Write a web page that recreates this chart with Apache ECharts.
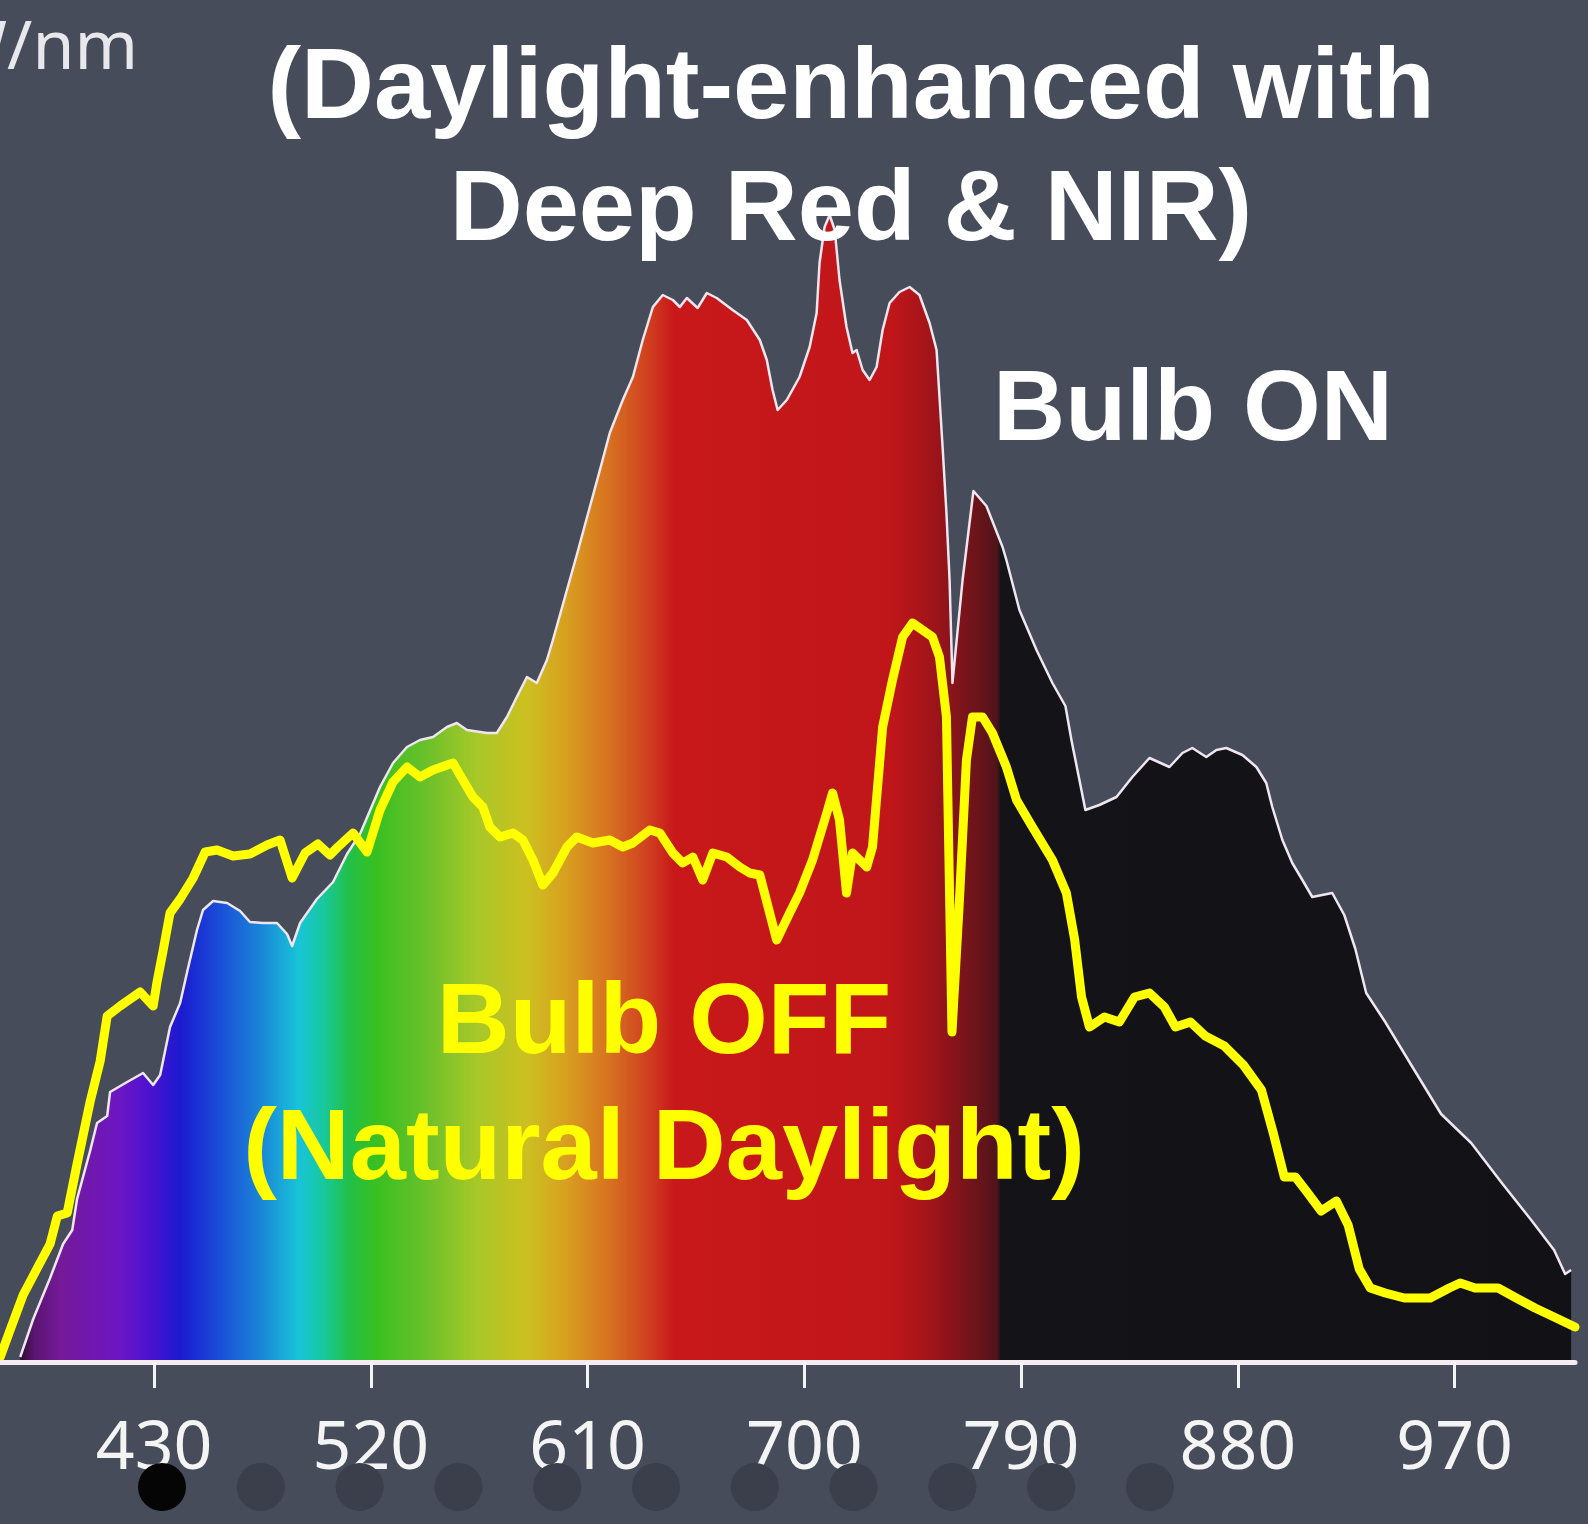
<!DOCTYPE html>
<html>
<head>
<meta charset="utf-8">
<title>Bulb spectrum</title>
<script src="https://cdn.jsdelivr.net/npm/echarts@6.0.0/dist/echarts.min.js"></script>
<style>
  html, body { margin: 0; padding: 0; background: #474c5a; }
  #chart { width: 1588px; height: 1524px; }
</style>
</head>
<body>
<div id="chart"></div>
<script>
// x ticks shown on the axis (nm)
const tickLabels = [430, 520, 610, 700, 790, 880, 970];

// Bulb ON (white outline, filled with the spectrum colours)
const onWavelength = [
  374.4, 379.8, 386.8, 392.2, 396.0, 398.0, 403.4, 406.3, 410.5, 411.7,
  418.8, 425.4, 429.6, 432.5, 436.6, 440.8, 443.7, 447.8, 450.3, 454.5,
  460.3, 465.7, 469.8, 475.2, 481.0, 485.2, 487.3, 490.6, 497.6, 504.3,
  510.1, 515.5, 523.8, 529.2, 535.0, 540.4, 545.8, 551.6, 555.7, 559.9,
  568.2, 572.3, 576.5, 580.6, 584.8, 588.9, 593.1, 595.6, 605.5, 615.1,
  619.2, 624.6, 628.8, 632.9, 637.1, 641.2, 645.4, 648.3, 651.2, 655.7,
  659.5, 663.6, 670.2, 676.1, 681.5, 684.4, 686.8, 688.9, 692.7, 698.0,
  702.2, 705.1, 706.3, 708.4, 710.5, 712.6, 714.6, 717.5, 720.0, 721.7,
  724.2, 727.1, 730.0, 732.5, 735.4, 739.5, 743.7, 747.8, 752.0, 754.9,
  757.4, 759.0, 760.3, 761.5, 765.7, 770.2, 775.6, 782.3, 783.9, 789.3,
  796.4, 803.0, 808.4, 810.9, 813.8, 816.7, 822.5, 829.6, 836.2, 843.3,
  851.6, 857.0, 861.1, 866.9, 871.1, 875.2, 881.9, 887.7, 891.8, 894.3,
  898.5, 902.6, 906.8, 910.9, 919.2, 924.2, 928.8, 933.3, 941.2, 952.0,
  964.4, 976.9, 989.3, 1001.8, 1011.3, 1015.9, 1018.4
];
const onIrradiance = [
  0.005, 0.043, 0.084, 0.118, 0.132, 0.163, 0.211, 0.239, 0.246, 0.270,
  0.280, 0.289, 0.277, 0.287, 0.335, 0.359, 0.390, 0.432, 0.452, 0.461,
  0.459, 0.451, 0.440, 0.439, 0.439, 0.428, 0.416, 0.439, 0.463, 0.480,
  0.508, 0.528, 0.575, 0.599, 0.615, 0.622, 0.625, 0.635, 0.639, 0.632,
  0.629, 0.629, 0.645, 0.665, 0.685, 0.679, 0.702, 0.722, 0.807, 0.892,
  0.929, 0.962, 0.985, 1.022, 1.055, 1.067, 1.062, 1.055, 1.064, 1.054,
  1.069, 1.064, 1.052, 1.042, 1.022, 1.002, 0.972, 0.952, 0.962, 0.985,
  1.015, 1.049, 1.099, 1.135, 1.147, 1.132, 1.082, 1.035, 1.009, 1.012,
  0.992, 0.982, 0.995, 1.032, 1.059, 1.070, 1.075, 1.067, 1.039, 1.012,
  0.915, 0.849, 0.782, 0.679, 0.782, 0.871, 0.856, 0.815, 0.802, 0.752,
  0.712, 0.679, 0.656, 0.622, 0.587, 0.552, 0.557, 0.565, 0.585, 0.604,
  0.595, 0.609, 0.614, 0.605, 0.612, 0.614, 0.607, 0.595, 0.579, 0.555,
  0.522, 0.499, 0.482, 0.465, 0.469, 0.447, 0.413, 0.369, 0.340, 0.297,
  0.248, 0.219, 0.180, 0.142, 0.112, 0.088, 0.092
];

// Bulb OFF (natural daylight, yellow line)
const offWavelength = [
  366.1, 370.2, 375.6, 381.5, 386.8, 389.8, 393.9, 398.0, 403.4, 407.6,
  410.5, 415.9, 424.2, 429.6, 431.2, 433.7, 436.6, 440.8, 446.2, 451.2,
  456.1, 462.8, 469.8, 476.9, 482.3, 487.3, 492.7, 498.0, 503.0, 506.3,
  512.6, 518.4, 523.8, 529.2, 535.0, 540.4, 545.8, 554.1, 558.2, 562.4,
  566.5, 569.4, 573.6, 579.0, 583.1, 587.3, 591.4, 595.6, 601.4, 605.5,
  612.2, 619.2, 624.6, 628.8, 635.8, 640.0, 645.4, 649.5, 653.7, 657.8,
  662.0, 667.8, 673.2, 677.3, 681.5, 688.5, 693.9, 698.0, 703.4, 709.3,
  711.7, 714.6, 717.5, 720.0, 725.9, 728.3, 732.5, 736.6, 740.8, 744.9,
  753.2, 756.1, 759.0, 761.3, 764.4, 767.3, 769.8, 774.0, 778.1, 783.9,
  788.1, 794.7, 803.0, 808.8, 812.2, 815.1, 818.4, 824.6, 830.8, 837.1,
  843.3, 849.5, 854.1, 860.3, 866.5, 874.4, 882.3, 889.8, 894.7, 899.3,
  903.9, 908.4, 914.6, 920.9, 925.8, 930.4, 935.0, 941.2, 949.1, 959.9,
  967.8, 972.3, 978.5, 988.1, 995.6, 1003.4, 1011.3, 1020.0
];
const offIrradiance = [
  0.005, 0.032, 0.067, 0.094, 0.118, 0.146, 0.149, 0.198, 0.260, 0.301,
  0.346, 0.356, 0.370, 0.356, 0.380, 0.411, 0.449, 0.463, 0.484, 0.510,
  0.512, 0.506, 0.508, 0.517, 0.522, 0.484, 0.509, 0.518, 0.507, 0.515,
  0.529, 0.510, 0.552, 0.580, 0.595, 0.585, 0.592, 0.599, 0.582, 0.565,
  0.555, 0.535, 0.525, 0.529, 0.522, 0.502, 0.477, 0.489, 0.515, 0.525,
  0.519, 0.522, 0.515, 0.519, 0.532, 0.529, 0.509, 0.499, 0.505, 0.482,
  0.509, 0.505, 0.495, 0.489, 0.487, 0.422, 0.449, 0.469, 0.502, 0.549,
  0.569, 0.542, 0.469, 0.509, 0.495, 0.515, 0.635, 0.682, 0.725, 0.739,
  0.725, 0.705, 0.645, 0.330, 0.462, 0.602, 0.645, 0.645, 0.629, 0.595,
  0.562, 0.535, 0.502, 0.469, 0.423, 0.365, 0.335, 0.345, 0.340, 0.365,
  0.369, 0.355, 0.335, 0.340, 0.326, 0.316, 0.297, 0.272, 0.229, 0.185,
  0.185, 0.171, 0.151, 0.161, 0.137, 0.093, 0.074, 0.069, 0.064, 0.064,
  0.074, 0.079, 0.074, 0.074, 0.064, 0.054, 0.045, 0.035
];

// colour of the fill by wavelength
const spectrumStops = [
  [374, '#2a0c30'], [380, '#5a1470'], [391, '#741a98'], [416, '#6c16c4'],
  [429, '#4812d0'], [441, '#1a1ad0'], [458, '#1a50d8'], [475, '#1a88d8'],
  [490, '#18c4d8'], [500, '#18c8a0'], [511, '#22c048'], [522, '#38c020'],
  [542, '#68c02a'], [564, '#a8c828'], [585, '#ccc020'], [601, '#d8a020'],
  [618, '#d87420'], [635, '#d04020'], [646, '#c8181a'], [736, '#c0161a'],
  [753, '#a0141a'], [769, '#72141a'], [780, '#50141a'], [781.5, '#141418'],
  [1020, '#121216']
];

const chart = echarts.init(document.getElementById('chart'));

const onData = onWavelength.map((w, i) => [w, onIrradiance[i]]);
const offData = offWavelength.map((w, i) => [w, offIrradiance[i]]);

// gradient offsets relative to the filled area's own x range
const wMin = onWavelength[0];
const wMax = onWavelength[onWavelength.length - 1];
const fillGradient = new echarts.graphic.LinearGradient(0, 0, 1, 0,
  spectrumStops.map(s => ({
    offset: Math.min(1, Math.max(0, (s[0] - wMin) / (wMax - wMin))),
    color: s[1]
  }))
);

// pager dots under the axis
const dots = [];
for (let i = 0; i < 11; i++) {
  dots.push({
    type: 'circle',
    shape: { cx: 162 + i * 98.8, cy: 1487, r: 24 },
    style: { fill: i === 0 ? '#050505' : '#3b3f4b' },
    z: 100
  });
}

const option = {
  backgroundColor: '#474c5a',
  animation: false,
  title: {
    text: '(Daylight-enhanced with\nDeep Red & NIR)',
    left: 846,
    top: 24,
    textAlign: 'center',
    textStyle: {
      color: '#ffffff',
      fontFamily: 'Liberation Sans',
      fontWeight: 'bold',
      fontSize: 101,
      lineHeight: 122
    }
  },
  grid: { left: 0, right: 13, top: 162, bottom: 162 },
  xAxis: {
    type: 'value',
    min: 366,
    max: 1020,
    z: 10,
    splitLine: { show: false },
    axisLine: { lineStyle: { color: '#f3ecf3', width: 5 } },
    axisTick: {
      customValues: tickLabels,
      length: 26,
      lineStyle: { color: '#f4f4f4', width: 3 }
    },
    axisLabel: {
      customValues: tickLabels,
      margin: 54,
      color: '#f4f4f4',
      fontFamily: 'Noto Sans',
      fontSize: 68
    }
  },
  yAxis: {
    type: 'value',
    min: 0,
    max: 1.2,
    show: false
  },
  series: [
    {
      name: 'Bulb ON',
      type: 'line',
      data: onData,
      showSymbol: false,
      smooth: false,
      lineStyle: { color: '#efe6ef', width: 2.5, join: 'round' },
      areaStyle: { color: fillGradient, opacity: 1 },
      z: 2
    },
    {
      name: 'Bulb OFF',
      type: 'line',
      data: offData,
      showSymbol: false,
      smooth: false,
      lineStyle: { color: '#ffff00', width: 9, join: 'round', cap: 'round' },
      z: 3
    }
  ],
  graphic: [
    {
      type: 'text',
      x: 138, y: 50,
      style: {
        text: 'W/nm',
        fill: '#e8e8ec',
        font: '68px "Noto Sans"',
        align: 'right',
        verticalAlign: 'middle'
      },
      z: 100
    },
    {
      type: 'text',
      x: 1193, y: 412,
      style: {
        text: 'Bulb ON',
        fill: '#ffffff',
        font: 'bold 100px "Liberation Sans"',
        align: 'center',
        verticalAlign: 'middle'
      },
      z: 100
    },
    {
      type: 'text',
      x: 664, y: 1088,
      style: {
        text: 'Bulb OFF\n(Natural Daylight)',
        fill: '#ffff00',
        font: 'bold 101px "Liberation Sans"',
        lineHeight: 126,
        align: 'center',
        verticalAlign: 'middle'
      },
      z: 100
    }
  ].concat(dots)
};

chart.setOption(option);
</script>
</body>
</html>
